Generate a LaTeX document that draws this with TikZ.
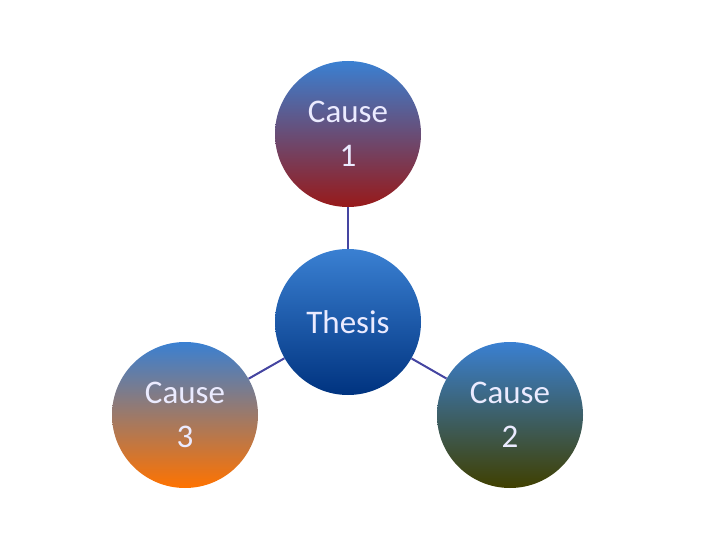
\documentclass[tikz,border=0pt]{standalone}
\usepackage{fontspec}
\setmainfont{Carlito}
\definecolor{cblue}{HTML}{3A80D2}
\begin{document}
\begin{tikzpicture}[x=1pt,y=-1pt,
  ball/.style={circle,minimum size=146pt,inner sep=0pt,align=center,text=white!92!blue,font=\fontsize{33}{44}\selectfont,shade,top color=cblue},
  link/.style={draw=blue!40!gray!90!black,line width=2pt}]
\useasboundingbox (0,0) rectangle (720,540);
\node[ball,bottom color=red!55!black!90] (c1) at (348,134) {Cause\\1};
\node[ball,bottom color=blue!60!cyan!50!black] (t) at (348,322) {Thesis};
\node[ball,bottom color=orange!90!red] (c3) at (185,415) {Cause\\3};
\node[ball,bottom color=olive!50!black] (c2) at (510,415) {Cause\\2};
\draw[link] (c1) -- (t);
\draw[link] (t) -- (c3);
\draw[link] (t) -- (c2);
\end{tikzpicture}
\end{document}
